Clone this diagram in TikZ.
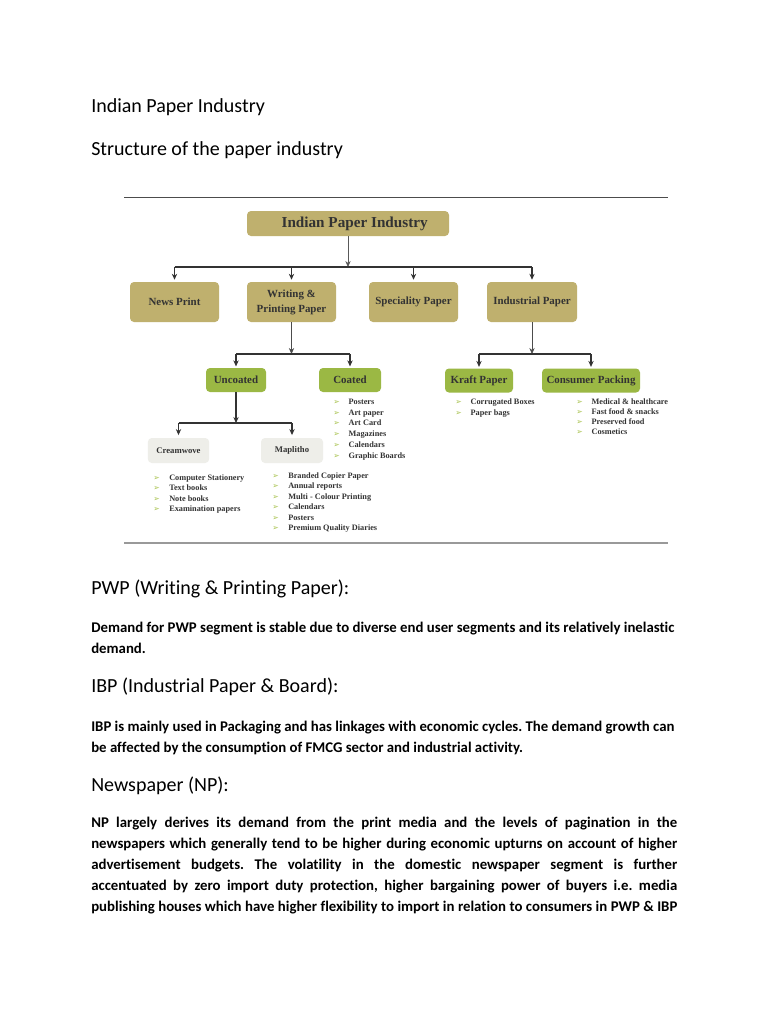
\documentclass[tikz,border=0pt]{standalone}
\usepackage{fontspec}
\setmainfont[Ligatures=NoCommon]{Carlito}
\newfontfamily\dgfont{Liberation Serif}
\newfontfamily\symfont{DejaVu Sans}
\usetikzlibrary{arrows.meta}
\definecolor{khaki}{HTML}{BFB06E}
\definecolor{leaf}{HTML}{9BB844}
\definecolor{pale}{HTML}{EEEEE9}
\definecolor{bul}{HTML}{A9C34F}
\definecolor{ink}{HTML}{333333}
\newcommand\itm[2][11.5pt]{\makebox[#1][l]{\textcolor{bul}{\symfont\fontsize{5.8}{6}\selectfont ➢}}#2}
\newcommand\jline[1]{\makebox[439.5pt][s]{#1}}
\frenchspacing
\begin{document}
\begin{tikzpicture}[x=0.75pt,y=-0.75pt,
  head/.style={anchor=base west, inner sep=0pt, font=\fontsize{15}{18}\selectfont},
  body/.style={anchor=base west, inner sep=0pt, font=\bfseries\fontsize{11.1}{13}\selectfont},
  dbox/.style={rounded corners=3pt, inner sep=0pt, align=center, text=ink, font=\dgfont\bfseries\fontsize{8.2}{11.2}\selectfont},
  topbox/.style={dbox, fill=khaki, minimum width=151.5pt, minimum height=18.75pt, font=\dgfont\bfseries\fontsize{11.4}{13}\selectfont},
  khakibox/.style={dbox, fill=khaki, minimum width=66.75pt, minimum height=30pt},
  greenbox/.style={dbox, fill=leaf, minimum height=18pt},
  palebox/.style={dbox, fill=pale, minimum width=46pt, minimum height=18.75pt, font=\dgfont\bfseries\fontsize{6.5}{8}\selectfont},
  li/.style={anchor=base west, inner sep=0pt, text=ink, font=\dgfont\bfseries\fontsize{6.2}{7}\selectfont},
  conn/.style={draw=ink, line width=0.9pt},
  arr/.style={conn, -{Stealth[length=4.5pt,width=4pt]}}
]
\useasboundingbox (0,0) rectangle (768,1024);
\fill[white] (0,0) rectangle (768,1024);

% page headings
\node[head] (h1) at (91,113) {Indian Paper Industry};
\node[head] (h2) at (91,155) {Structure of the paper industry};

% rules
\coordinate (rtl) at (124,197.5);
\coordinate (rtr) at (668,197.5);
\coordinate (rbl) at (124,543);
\coordinate (rbr) at (668,543);
\draw[line width=0.8pt, draw=black!70] (rtl) -- (rtr);
\draw[line width=0.8pt, draw=black!40] (rbl) -- (rbr);

% diagram nodes
\node[topbox] (ipi) at (348,223.5) {\hspace*{10pt}Indian Paper Industry};
\node[khakibox] (np) at (174.5,302) {News Print};
\node[khakibox] (wpp) at (291.5,302) {Writing \&\\Printing Paper};
\node[khakibox] (sp) at (413.5,302) {Speciality Paper};
\node[khakibox, minimum width=67.5pt] (ip) at (532,302) {Industrial Paper};
\node[greenbox, minimum width=45pt] (unc) at (236,380) {Uncoated};
\node[greenbox, minimum width=46.5pt] (coa) at (350,380) {Coated};
\node[greenbox, minimum width=51pt] (kp) at (479,380.5) {Kraft Paper};
\node[greenbox, minimum width=73.5pt] (cp) at (591,380.5) {Consumer Packing};
\node[palebox] (cw) at (178.5,450.5) {Creamwove};
\node[palebox, minimum width=46.5pt] (ml) at (292,450.5) {Maplitho};

% connectors
\coordinate (bar1) at (0,267);
\coordinate (bar2) at (0,354);
\coordinate (bar3) at (0,423);
\draw[arr, line width=0.6pt, draw=black!65] (ipi.south) -- (ipi.south |- bar1);
\draw[conn] (np.north |- bar1) -- (ip.north |- bar1);
\foreach \n in {np,wpp,sp,ip} \draw[arr, shorten >=1.5pt] (\n.north |- bar1) -- (\n.north);
\draw[arr, line width=0.6pt, draw=black!70] (wpp.south) -- (wpp.south |- bar2);
\draw[conn] (unc.north |- bar2) -- (coa.north |- bar2);
\foreach \n in {unc,coa} \draw[arr, shorten >=1pt] (\n.north |- bar2) -- (\n.north);
\draw[arr, line width=0.6pt, draw=black!70] (ip.south) -- (ip.south |- bar2);
\draw[conn] (kp.north |- bar2) -- (cp.north |- bar2);
\foreach \n in {kp,cp} \draw[arr, shorten >=1pt] (\n.north |- bar2) -- (\n.north);
\draw[arr] (unc.south) -- (unc.south |- bar3);
\draw[conn] (cw.north |- bar3) -- (ml.north |- bar3);
\foreach \n in {cw,ml} \draw[arr, shorten >=2pt] (\n.north |- bar3) -- (\n.north);

% lists
\foreach \t [count=\i] in {Posters,Art paper,Art Card,Magazines,Calendars,Graphic Boards}
  \node[li] (coa-\i) at (333,{404.5+10.7*(\i-1)}) {\itm{\t}};
\foreach \t [count=\i] in {Computer Stationery,Text books,Note books,Examination papers}
  \node[li] (cw-\i) at (153,{480.5+10.3*(\i-1)}) {\itm[12pt]{\t}};
\foreach \t [count=\i] in {Branded Copier Paper,Annual reports,Multi - Colour Printing,Calendars,Posters,Premium Quality Diaries}
  \node[li] (ml-\i) at (272,{478.5+10.4*(\i-1)}) {\itm[12pt]{\t}};
\foreach \t [count=\i] in {Corrugated Boxes,Paper bags}
  \node[li] (kp-\i) at (455,{404.5+11*(\i-1)}) {\itm{\t}};
\foreach \t [count=\i] in {Medical \& healthcare,Fast food \& snacks,Preserved food,Cosmetics}
  \node[li] (cp-\i) at (576,{404+10*(\i-1)}) {\itm{\t}};

% text sections
\node[head] (h3) at (91,594) {PWP (Writing \& Printing Paper):};
\node[body] (p1a) at (91,632) {Demand for PWP segment is stable due to diverse end user segments and its relatively inelastic};
\node[body] (p1b) at (91,653) {demand.};
\node[head] (h4) at (91,692) {IBP (Industrial Paper \& Board):};
\node[body] (p2a) at (91,731) {IBP is mainly used in Packaging and has linkages with economic cycles. The demand growth can};
\node[body] (p2b) at (91,752) {be affected by the consumption of FMCG sector and industrial activity.};
\node[head] (h5) at (91,791) {Newspaper (NP):};
\node[body] (p3a) at (91,827) {\jline{NP largely derives its demand from the print media and the levels of pagination in the}};
\node[body] (p3b) at (91,848) {\jline{newspapers which generally tend to be higher during economic upturns on account of higher}};
\node[body] (p3c) at (91,869) {\jline{advertisement budgets. The volatility in the domestic newspaper segment is further}};
\node[body] (p3d) at (91,890) {\jline{accentuated by zero import duty protection, higher bargaining power of buyers i.e. media}};
\node[body] (p3e) at (91,911) {\jline{publishing houses which have higher flexibility to import in relation to consumers in PWP \& IBP}};
\end{tikzpicture}
\end{document}
